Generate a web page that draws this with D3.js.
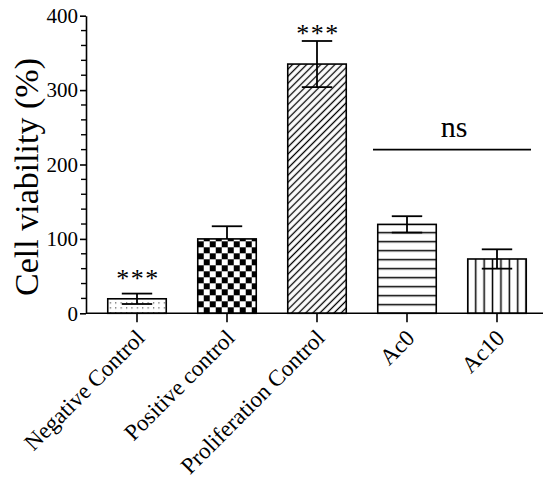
<!DOCTYPE html>
<html><head><meta charset="utf-8">
<script src="https://cdn.jsdelivr.net/npm/d3@7"></script>
<style>
html,body{margin:0;padding:0;background:#fff;}
svg{display:block;font-family:"Liberation Serif","Times New Roman",serif;}
</style></head>
<body>
<svg id="chart" width="550" height="482"></svg>
<script>
const categories = ["Negative Control","Positive control","Proliferation Control","Ac0","Ac10"];
const means = [19.5, 100, 335, 119.5, 73];
const errors = [7, 17, 31, 11, 13];
const showLowerError = [true, false, true, true, true];
const patterns = ["dots","checker","diag","horiz","vert"];
const sigLabels = ["***", null, "***", null, null];
const sigY = [51.5, null, 381, null, null];
const yTicks = [0, 100, 200, 300, 400];
const yMinorTicks = [20,40,60,80,120,140,160,180,220,240,260,280,320,340,360,380];
const nsGroup = ["Ac0","Ac10"];
const nsLineY = 220;
const nsTextY = 237;
const yLabel = "Cell viability (%)";

const svg = d3.select("#chart");
const y = d3.scaleLinear().domain([0,400]).range([313.3,15.7]);
const x = d3.scaleBand().domain(categories).range([92,542]).paddingInner(0.35).paddingOuter(0.175);
const bw = x.bandwidth();
const axisX0 = 86, axisX1 = 543;

// patterns
const defs = svg.append("defs");
categories.forEach((c,i)=>{
  const id = "pat"+i, bx = x(c), by = y(0);
  const p = defs.append("pattern").attr("id",id).attr("patternUnits","userSpaceOnUse");
  const t = patterns[i];
  if(t==="dots"){
    p.attr("width",5.4).attr("height",5).attr("x",bx+2).attr("y",by-1);
    p.append("rect").attr("x",0).attr("y",0).attr("width",1.2).attr("height",1.2).attr("fill","#444");
  } else if(t==="checker"){
    p.attr("width",12).attr("height",12).attr("x",bx).attr("y",by);
    p.append("rect").attr("width",6).attr("height",6).attr("fill","#000");
    p.append("rect").attr("x",6).attr("y",6).attr("width",6).attr("height",6).attr("fill","#000");
  } else if(t==="diag"){
    p.attr("width",5).attr("height",5).attr("patternTransform","rotate(45)");
    p.append("line").attr("x1",2.5).attr("x2",2.5).attr("y1",0).attr("y2",5).attr("stroke","#000").attr("stroke-width",1.3);
  } else if(t==="horiz"){
    p.attr("width",10).attr("height",9).attr("x",bx).attr("y",by-13.1);
    p.append("line").attr("x1",0).attr("x2",10).attr("y1",4.5).attr("y2",4.5).attr("stroke","#000").attr("stroke-width",1.5);
  } else if(t==="vert"){
    p.attr("width",8.4).attr("height",10).attr("x",bx+3.8).attr("y",0);
    p.append("line").attr("x1",4.2).attr("x2",4.2).attr("y1",0).attr("y2",10).attr("stroke","#000").attr("stroke-width",1.5);
  }
});

// bars
const data = categories.map((c,i)=>({c, m:means[i], e:errors[i], i}));
svg.append("g").selectAll("rect").data(data).join("rect")
  .attr("x",d=>x(d.c)).attr("width",bw)
  .attr("y",d=>y(d.m)).attr("height",d=>y(0)-y(d.m))
  .attr("fill",d=>"url(#pat"+d.i+")")
  .attr("stroke","#000").attr("stroke-width",1.6);

// error bars
const capW = bw*0.52;
const eg = svg.append("g").attr("stroke","#000").attr("stroke-width",1.8).attr("fill","none");
data.forEach(d=>{
  const cx = x(d.c)+bw/2;
  const lo = showLowerError[d.i] ? d.m-d.e : d.m;
  eg.append("line").attr("x1",cx).attr("x2",cx).attr("y1",y(d.m+d.e)).attr("y2",y(lo));
  eg.append("line").attr("x1",cx-capW/2).attr("x2",cx+capW/2).attr("y1",y(d.m+d.e)).attr("y2",y(d.m+d.e));
  if(showLowerError[d.i])
    eg.append("line").attr("x1",cx-capW/2).attr("x2",cx+capW/2).attr("y1",y(lo)).attr("y2",y(lo));
});

// y axis
const yAxis = svg.append("g").attr("transform",`translate(${axisX0},0)`)
  .call(d3.axisLeft(y).tickValues(yTicks).tickSize(6).tickPadding(2).tickSizeOuter(0));
yAxis.select(".domain").attr("stroke","#000").attr("stroke-width",1.6);
yAxis.selectAll(".tick line").attr("stroke-width",1.6);
yAxis.selectAll("text").attr("font-size",21).attr("font-family","Liberation Serif").attr("fill","#000");
yAxis.selectAll(".minor").data(yMinorTicks).join("line").attr("class","minor")
  .attr("x1",-5).attr("x2",0).attr("y1",d=>y(d)).attr("y2",d=>y(d)).attr("stroke","#000").attr("stroke-width",1.4);

// x axis
const xAxis = svg.append("g").attr("transform",`translate(0,${y(0)})`)
  .call(d3.axisBottom(x).tickSize(9).tickSizeOuter(0));
xAxis.select(".domain").remove();
xAxis.selectAll(".tick line").attr("stroke-width",1.6);
xAxis.selectAll("text").attr("font-size",23).attr("font-family","Liberation Serif").attr("fill","#000")
  .attr("text-anchor","end").attr("x",0).attr("y",0).attr("dy",0)
  .attr("transform","translate(9,26) rotate(-45)");
svg.append("line").attr("x1",axisX0).attr("x2",axisX1).attr("y1",y(0)).attr("y2",y(0))
  .attr("stroke","#000").attr("stroke-width",1.6);

// y label
svg.append("text").attr("transform",`translate(38,177) rotate(-90)`)
  .attr("text-anchor","middle").attr("font-size",34).text(yLabel);

// significance asterisks
data.forEach(d=>{
  if(!sigLabels[d.i]) return;
  svg.append("text").attr("x",x(d.c)+bw/2+1).attr("y",y(sigY[d.i])+12)
    .attr("text-anchor","middle").attr("font-size",26).attr("letter-spacing",1.5).text(sigLabels[d.i]);
});

// ns bracket
const nsL = x(nsGroup[0])+bw/2, nsR = x(nsGroup[1])+bw/2, nsC = (nsL+nsR)/2;
svg.append("line").attr("x1",nsC-79).attr("x2",nsC+79).attr("y1",y(nsLineY)).attr("y2",y(nsLineY))
  .attr("stroke","#000").attr("stroke-width",1.6);
svg.append("text").attr("x",nsC+2).attr("y",y(nsTextY)).attr("text-anchor","middle").attr("font-size",30).text("ns");
</script>
</body></html>
